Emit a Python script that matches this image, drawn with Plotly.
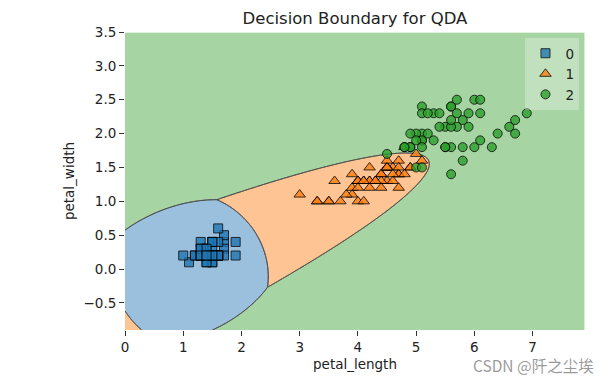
import numpy as np
import plotly.graph_objects as go

# Iris petal measurements (class 0 = setosa, 1 = versicolor, 2 = virginica)
petal_length_0 = [1.4,1.4,1.3,1.5,1.4,1.7,1.4,1.5,1.4,1.5,1.5,1.6,1.4,1.1,1.2,1.5,1.3,1.4,1.7,1.5,
                  1.7,1.5,1.0,1.7,1.9,1.6,1.6,1.5,1.4,1.6,1.6,1.5,1.5,1.4,1.5,1.2,1.3,1.4,1.3,1.5,
                  1.3,1.3,1.3,1.6,1.9,1.4,1.6,1.4,1.5,1.4]
petal_width_0 = [0.2,0.2,0.2,0.2,0.2,0.4,0.3,0.2,0.2,0.1,0.2,0.2,0.1,0.1,0.2,0.4,0.4,0.3,0.3,0.3,
                 0.2,0.4,0.2,0.5,0.2,0.2,0.4,0.2,0.2,0.2,0.2,0.4,0.1,0.2,0.2,0.2,0.2,0.1,0.2,0.2,
                 0.3,0.3,0.2,0.6,0.4,0.3,0.2,0.2,0.2,0.2]
petal_length_1 = [4.7,4.5,4.9,4.0,4.6,4.5,4.7,3.3,4.6,3.9,3.5,4.2,4.0,4.7,3.6,4.4,4.5,4.1,4.5,3.9,
                  4.8,4.0,4.9,4.7,4.3,4.4,4.8,5.0,4.5,3.5,3.8,3.7,3.9,5.1,4.5,4.5,4.7,4.4,4.1,4.0,
                  4.4,4.6,4.0,3.3,4.2,4.2,4.2,4.3,3.0,4.1]
petal_width_1 = [1.4,1.5,1.5,1.3,1.5,1.3,1.6,1.0,1.3,1.4,1.0,1.5,1.0,1.4,1.3,1.4,1.5,1.0,1.5,1.1,
                 1.8,1.3,1.5,1.2,1.3,1.4,1.4,1.7,1.5,1.0,1.1,1.0,1.2,1.6,1.5,1.6,1.5,1.3,1.3,1.3,
                 1.2,1.4,1.2,1.0,1.3,1.2,1.3,1.3,1.1,1.3]
petal_length_2 = [6.0,5.1,5.9,5.6,5.8,6.6,4.5,6.3,5.8,6.1,5.1,5.3,5.5,5.0,5.1,5.3,5.5,6.7,6.9,5.0,
                  5.7,4.9,6.7,4.9,5.7,6.0,4.8,4.9,5.6,5.8,6.1,6.4,5.6,5.1,5.6,6.1,5.6,5.5,4.8,5.4,
                  5.6,5.1,5.1,5.9,5.7,5.2,5.0,5.2,5.4,5.1]
petal_width_2 = [2.5,1.9,2.1,1.8,2.2,2.1,1.7,1.8,1.8,2.5,2.0,1.9,2.1,2.0,2.4,2.3,1.8,2.2,2.3,1.5,
                 2.3,2.0,2.0,1.8,2.1,1.8,1.8,1.8,2.1,1.6,1.9,2.0,2.2,1.5,1.4,2.3,2.4,1.8,1.8,2.1,
                 2.4,2.3,1.9,2.3,2.5,2.3,1.9,2.0,2.3,1.8]

class_labels = ["0", "1", "2"]
x_ticks = [0, 1, 2, 3, 4, 5, 6, 7]
y_ticks = [-0.5, 0.0, 0.5, 1.0, 1.5, 2.0, 2.5, 3.0, 3.5]
y_tick_text = ["\u22120.5", "0.0", "0.5", "1.0", "1.5", "2.0", "2.5", "3.0", "3.5"]

lengths = [petal_length_0, petal_length_1, petal_length_2]
widths = [petal_width_0, petal_width_1, petal_width_2]

colors = ["#1f77b4", "#ff7f0e", "#2ca02c"]
fill_colors = ["rgb(155,192,222)", "rgb(255,196,148)", "rgb(166,212,162)"]
symbols = ["square", "triangle-up", "circle"]
marker_sizes = [9, 10, 9]

# --- QDA fit (equal priors, unbiased covariance) ---
means, invs, logdets = [], [], []
for L, W in zip(lengths, widths):
    X = np.column_stack([L, W])
    m = X.mean(axis=0)
    S = np.cov(X.T, ddof=1)
    means.append(m)
    invs.append(np.linalg.inv(S))
    logdets.append(np.log(np.linalg.det(S)))

all_L = np.concatenate(lengths)
all_W = np.concatenate(widths)
x_min, x_max = all_L.min() - 1, all_L.max() + 1
y_min, y_max = all_W.min() - 1, all_W.max() + 1
res = 0.02
xs = np.arange(x_min, x_max, res)
ys = np.arange(y_min, y_max, res)
XX, YY = np.meshgrid(xs, ys)
P = np.stack([XX.ravel(), YY.ravel()], axis=1)

scores = []
for m, Si, ld in zip(means, invs, logdets):
    d = P - m
    q = np.einsum("ij,jk,ik->i", d, Si, d)
    scores.append(-0.5 * ld - 0.5 * q)
scores = np.stack(scores, axis=1)
Z = scores.argmax(axis=1).reshape(XX.shape)

fig = go.Figure()
fig.add_trace(go.Heatmap(
    x=xs, y=ys, z=Z, zmin=-0.5, zmax=2.5, zsmooth=False,
    colorscale=[[0, fill_colors[0]], [1/3, fill_colors[0]], [1/3, fill_colors[1]],
                [2/3, fill_colors[1]], [2/3, fill_colors[2]], [1, fill_colors[2]]],
    showscale=False, hoverinfo="skip"))

for k in range(3):
    others = np.delete(scores, k, axis=1).max(axis=1)
    D = (scores[:, k] - others).reshape(XX.shape)
    fig.add_trace(go.Contour(
        x=xs, y=ys, z=D, showscale=False, hoverinfo="skip",
        contours=dict(start=0, end=0, size=1, coloring="none"),
        line=dict(color="rgba(70,70,70,0.9)", width=0.9), showlegend=False))

for k in range(3):
    fig.add_trace(go.Scatter(
        x=lengths[k], y=widths[k], mode="markers", name=class_labels[k],
        marker=dict(symbol=symbols[k], size=marker_sizes[k], color=colors[k], opacity=0.8,
                    line=dict(color="black", width=1))))

# page body has an 8px margin, so the figure is sized/offset to land on the same pixels
W, H = 602, 375
fig.update_layout(
    width=W, height=H,
    margin=dict(l=117, r=25, t=24, b=53),
    paper_bgcolor="white", plot_bgcolor="white",
    font=dict(family="DejaVu Sans", size=13.5, color="#222"),
    title=dict(text="Decision Boundary for QDA", x=(117 + 577) / 2 / W, xanchor="center",
               y=1 - 10 / H, yanchor="middle", font=dict(size=16.5, color="#222")),
    legend=dict(x=0.988, y=0.98, xanchor="right", yanchor="top",
                bgcolor="rgba(255,255,255,0.3)", bordercolor="rgba(0,0,0,0)",
                font=dict(size=13.5), itemwidth=30),
    showlegend=True,
    annotations=[dict(text="CSDN @阡之尘埃", xref="paper", yref="paper",
                      x=(596 - 8 - 117) / 460, y=-(365 - 8 - 24 - 298) / 298,
                      xanchor="right", yanchor="middle", showarrow=False,
                      font=dict(family="Noto Sans CJK SC", size=15.5, color="rgba(120,120,120,0.75)"))],
)
fig.update_xaxes(range=[x_min, x_max], tickmode="array", tickvals=x_ticks,
                 ticks="outside", ticklen=5, tickcolor="#333", showgrid=False, zeroline=False,
                 showline=False, title=dict(text="petal_length", standoff=5, font=dict(size=13.5)))
fig.update_yaxes(range=[y_min, y_max], tickmode="array", tickvals=y_ticks, ticktext=y_tick_text,
                 ticks="outside", ticklen=5, tickcolor="#333", showgrid=False, zeroline=False,
                 showline=False, title=dict(text="petal_width", standoff=5, font=dict(size=13.5)))

fig.write_html("out.html")
